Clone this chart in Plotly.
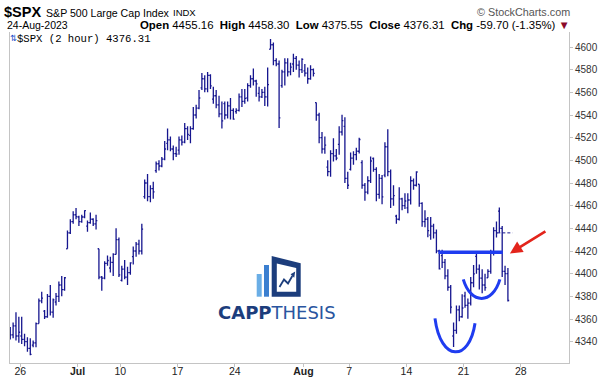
import plotly.graph_objects as go

# ---------------- data ----------------
session_dates = [
    "2023-06-23", "2023-06-26", "2023-06-27", "2023-06-28", "2023-06-29", "2023-06-30",
    "2023-07-03", "2023-07-05", "2023-07-06", "2023-07-07",
    "2023-07-10", "2023-07-11", "2023-07-12", "2023-07-13", "2023-07-14",
    "2023-07-17", "2023-07-18", "2023-07-19", "2023-07-20", "2023-07-21",
    "2023-07-24", "2023-07-25", "2023-07-26", "2023-07-27", "2023-07-28",
    "2023-07-31", "2023-08-01", "2023-08-02", "2023-08-03", "2023-08-04",
    "2023-08-07", "2023-08-08", "2023-08-09", "2023-08-10", "2023-08-11",
    "2023-08-14", "2023-08-15", "2023-08-16", "2023-08-17", "2023-08-18",
    "2023-08-21", "2023-08-22", "2023-08-23", "2023-08-24",
]
session_bars = [4, 4, 4, 4, 4, 4, 3] + [4] * 37
future_sessions = ["2023-08-25", "2023-08-28"]

tick_dates = ["2023-06-26", "2023-07-03", "2023-07-10", "2023-07-17", "2023-07-24",
              "2023-08-01", "2023-08-07", "2023-08-14", "2023-08-21", "2023-08-28"]
tick_labels = ["26", "<b>Jul</b>", "10", "17", "24", "<b>Aug</b>", "7", "14", "21", "28"]
price_ticks = [4340, 4360, 4380, 4400, 4420, 4440, 4460, 4480, 4500, 4520, 4540, 4560, 4580, 4600]

bar_open = [
    4352, 4346, 4354, 4345,  4345, 4342, 4340, 4334,  4337, 4339, 4356, 4376,
    4367, 4362, 4380, 4366,  4375, 4380, 4390, 4386,  4422, 4436, 4446, 4452,
    4450, 4446, 4450,        4442, 4445, 4448, 4444,  4422, 4397, 4396, 4409,
    4405, 4410, 4417, 4430,  4394, 4404, 4397, 4401,  4415, 4420, 4426, 4420,
    4468, 4480, 4468, 4475,  4491, 4497, 4495, 4501,  4515, 4518, 4510, 4506,
    4509, 4518, 4516, 4528,  4522, 4528, 4540, 4546,  4564, 4572, 4563, 4575,
    4554, 4557, 4549, 4541,  4550, 4540, 4548, 4544,  4543, 4544, 4556, 4552,
    4555, 4566, 4572, 4570,  4559, 4556, 4560, 4556,  4598, 4602, 4588, 4585,
    4566, 4578, 4586, 4578,  4585, 4590, 4584, 4580,  4579, 4577, 4572, 4580,
    4551, 4540, 4520, 4510,  4494, 4490, 4506, 4504,  4514, 4525, 4530, 4484,
    4492, 4502, 4505, 4508,  4498, 4478, 4472, 4482,  4501.6, 4492, 4470, 4484,
    4487, 4512, 4490, 4466,  4450.7, 4448, 4466, 4460,  4458, 4465, 4482, 4478,
    4478.9, 4462, 4446, 4448,  4434, 4442, 4436, 4420,  4416, 4410, 4398, 4388,
    4345, 4350, 4368, 4362,  4380.3, 4372, 4374, 4392,  4415.3, 4404, 4396, 4390,
    4396.4, 4402, 4418, 4438,  4455.16, 4440, 4402, 4400,
]
bar_high = [
    4353, 4357, 4366, 4362,  4362, 4347, 4344, 4343,  4341, 4357, 4378, 4384,
    4368, 4382, 4390, 4378,  4383, 4393, 4398, 4397,  4438, 4448, 4455, 4458,
    4451, 4452, 4456,        4447, 4454, 4449, 4452,  4422, 4398, 4411, 4416,
    4415, 4418, 4440, 4432,  4407, 4412, 4406, 4410,  4424, 4428, 4430, 4444,
    4483, 4488, 4478, 4481,  4499, 4500, 4503, 4517,  4528, 4521, 4513, 4512,
    4521, 4522, 4533, 4530,  4530, 4547, 4549, 4562,  4577, 4575, 4578, 4576,
    4565, 4562, 4557, 4552,  4552, 4552, 4555, 4546,  4546, 4559, 4563, 4563,
    4568, 4575, 4581, 4571,  4565, 4563, 4565, 4582,  4607, 4604, 4590, 4588,
    4580, 4590, 4590, 4586,  4594, 4592, 4588, 4590,  4585, 4582, 4584, 4581,
    4551, 4542, 4525, 4521,  4500, 4509, 4519.5, 4510,  4530, 4540.3, 4538, 4490,
    4507, 4508, 4511, 4520,  4500, 4480, 4486, 4503.3,  4502.4, 4494, 4488, 4487,
    4516, 4527.4, 4492, 4478,  4452, 4476.2, 4467, 4471,  4471, 4486, 4484, 4490.3,
    4478.9, 4463, 4456, 4450,  4450, 4444, 4439, 4421,  4421, 4413, 4404, 4390,
    4357, 4372, 4372, 4381.8,  4384, 4378, 4397, 4407.6,  4418.6, 4408, 4404, 4400,
    4404, 4421, 4441, 4446,  4458.30, 4442, 4407, 4405,
]
bar_low = [
    4342, 4343, 4341, 4339,  4338, 4336, 4331, 4328,  4335, 4335, 4356, 4374,
    4360, 4361, 4363, 4361,  4372, 4375, 4380, 4385,  4422, 4435, 4444, 4448,
    4442, 4445, 4449,        4437, 4444, 4442, 4439,  4395, 4385, 4395, 4407,
    4401, 4398, 4417, 4397,  4393, 4395, 4390, 4399,  4408, 4415, 4417, 4417,
    4466, 4464, 4463, 4466,  4489, 4491, 4494, 4500,  4509, 4508, 4500, 4503,
    4505, 4513, 4515, 4518,  4515, 4527, 4537, 4545,  4562, 4560, 4560, 4563,
    4550, 4546, 4538, 4528,  4536, 4537, 4536, 4535.8,  4541, 4543, 4547, 4550,
    4552, 4564, 4566, 4556,  4552, 4555, 4548, 4547.6,  4598, 4584, 4583, 4528.6,
    4564, 4566, 4574, 4575,  4578, 4580, 4573, 4577,  4574, 4567.5, 4571, 4574,
    4535, 4515, 4506, 4505.8,  4486, 4485.5, 4499, 4500,  4505, 4522, 4480, 4474.6,
    4491, 4496, 4500, 4506,  4475, 4464.4, 4470, 4480,  4490, 4464, 4466, 4461.3,
    4485, 4486, 4457.9, 4460,  4444, 4447, 4456, 4457,  4453.4, 4461, 4474, 4477,
    4459, 4441.5, 4441, 4432.2,  4430, 4431, 4418, 4403.6,  4405, 4395, 4385, 4364.8,
    4335.3, 4347, 4358, 4361,  4370, 4360.3, 4372, 4388,  4400, 4386, 4382.8, 4385,
    4396.4, 4400, 4416, 4432,  4436, 4397, 4390, 4375.55,
]
bar_close = [
    4346, 4354, 4345, 4348.3,  4342, 4340, 4334, 4328.8,  4339, 4356, 4376, 4378.4,
    4362, 4380, 4366, 4376.9,  4380, 4390, 4386, 4396.4,  4436, 4446, 4452, 4450.4,
    4446, 4450, 4455.6,        4445, 4448, 4444, 4446.8,  4397, 4396, 4409, 4411.6,
    4410, 4417, 4430, 4399,  4404, 4397, 4401, 4409.5,  4420, 4426, 4420, 4439.3,
    4480, 4468, 4475, 4472.2,  4497, 4495, 4501, 4510,  4518, 4510, 4506, 4505.4,
    4518, 4516, 4528, 4522.8,  4528, 4540, 4546, 4555,  4572, 4563, 4575, 4565.7,
    4557, 4549, 4541, 4534.9,  4540, 4548, 4544, 4536.3,  4544, 4556, 4552, 4554.6,
    4566, 4572, 4570, 4567.5,  4556, 4560, 4556, 4566.8,  4602, 4588, 4585, 4537.4,
    4578, 4586, 4578, 4582.2,  4590, 4584, 4580, 4589,  4577, 4572, 4580, 4576.7,
    4540, 4520, 4510, 4513.4,  4490, 4506, 4504, 4501.9,  4525, 4535, 4484, 4478,
    4502, 4505, 4508, 4518.4,  4478, 4472, 4482, 4499.4,  4492, 4470, 4484, 4467.7,
    4512, 4490, 4466, 4468.8,  4448, 4466, 4460, 4464.1,  4465, 4482, 4478, 4489.7,
    4462, 4446, 4448, 4437.9,  4442, 4436, 4420, 4404.3,  4410, 4398, 4388, 4370.4,
    4350, 4368, 4362, 4369.7,  4372, 4374, 4392, 4399.8,  4404, 4396, 4390, 4387.6,
    4402, 4418, 4438, 4436.01,  4440, 4402, 4400, 4376.31,
]

# hand-drawn markup on the chart (data coordinates: bar index, price)
neckline_x = [149.7, 172.2]
neckline_y = 4418.8
cup1 = [(148.5, 4360.6), (150.5, 4321.9), (160.5, 4321.9), (162.5, 4356.2)]
cup2 = [(158.4, 4395.0), (161.0, 4372.6), (168.6, 4372.6), (171.2, 4395.0)]
arrow_tip = (174.7, 4417.9)

# ---------------- build positions ----------------
bar_x = []
session_start = {}
k = 0
for d, n in zip(session_dates, session_bars):
    session_start[d] = k
    for _ in range(n):
        bar_x.append(k)
        k += 1
for d in future_sessions:
    session_start[d] = k
    k += 4
tick_pos = [session_start[d] - 0.5 for d in tick_dates]

last_start = session_start[session_dates[-1]]
n_last = session_bars[-1]
day_open = bar_open[last_start]
day_high = max(bar_high[last_start:last_start + n_last])
day_low = min(bar_low[last_start:last_start + n_last])
day_close = bar_close[-1]
prev_close = bar_close[last_start - 1]
chg = day_close - prev_close
chg_pct = chg / prev_close * 100

W, H = 599, 379
ML, MR, MT, MB = 10, 30, 32, 16
PW, PH = W - ML - MR, H - MT - MB


def PX(x):
    return (x - ML) / PW


def PY(y):
    return (H - MB - y) / PH


NAVY = "#16168f"
FONT = "Liberation Sans"

fig = go.Figure()
fig.add_trace(go.Ohlc(
    x=bar_x, open=bar_open, high=bar_high, low=bar_low, close=bar_close,
    increasing=dict(line=dict(color=NAVY, width=1.3)),
    decreasing=dict(line=dict(color=NAVY, width=1.3)),
    tickwidth=0.45, hoverinfo="skip", showlegend=False,
))

shapes = []


def cubic(pts):
    (x0, y0), (x1, y1), (x2, y2), (x3, y3) = pts
    return f"M {x0},{y0} C {x1},{y1} {x2},{y2} {x3},{y3}"


BLUE = "#1f3cf0"
shapes.append(dict(type="path", xref="x", yref="y", path=cubic(cup1),
                   line=dict(color=BLUE, width=3)))
shapes.append(dict(type="path", xref="x", yref="y", path=cubic(cup2),
                   line=dict(color=BLUE, width=3)))
shapes.append(dict(type="line", xref="x", yref="y", x0=neckline_x[0], x1=neckline_x[1],
                   y0=neckline_y, y1=neckline_y, line=dict(color=BLUE, width=3.5)))
# previous close marker
shapes.append(dict(type="line", xref="x", yref="y", x0=bar_x[last_start - 1] + 0.3,
                   x1=bar_x[-1] + 1.6, y0=prev_close, y1=prev_close,
                   line=dict(color=NAVY, width=1, dash="3px,2px")))


# logo (paper coordinates converted from pixels)
def ppath(points, close=True):
    s = "M " + " L ".join(f"{PX(x):.5f},{PY(y):.5f}" for x, y in points)
    return s + (" Z" if close else "")


shapes.append(dict(type="rect", xref="paper", yref="paper", x0=PX(256.7), x1=PX(261.7),
                   y0=PY(296.7), y1=PY(274), fillcolor="#6aaee6", line=dict(width=0), layer="below"))
shapes.append(dict(type="rect", xref="paper", yref="paper", x0=PX(264), x1=PX(269),
                   y0=PY(296.7), y1=PY(265), fillcolor="#3b7fd0", line=dict(width=0), layer="below"))
shapes.append(dict(type="path", xref="paper", yref="paper",
                   path=ppath([(271.7, 296.7), (271.7, 256), (300.7, 263.3), (300.7, 296.7)]),
                   fillcolor="#1c3d7c", line=dict(width=0), layer="below"))
shapes.append(dict(type="path", xref="paper", yref="paper",
                   path=ppath([(276.8, 291.8), (276.8, 263.5), (296.2, 268), (296.2, 291.8)]),
                   fillcolor="white", line=dict(width=0), layer="below"))
shapes.append(dict(type="path", xref="paper", yref="paper",
                   path=ppath([(279.5, 287), (284, 279.5), (288, 283.5), (292.3, 276)], close=False),
                   line=dict(color="#1c3d7c", width=1.8), layer="below"))
shapes.append(dict(type="path", xref="paper", yref="paper",
                   path=ppath([(295.2, 271.5), (290.6, 274.2), (294.2, 277.8)]),
                   fillcolor="#1c3d7c", line=dict(width=0), layer="below"))

SP = "&nbsp; "
stats_text = (f"<b>Open</b> {day_open:.2f}{SP}<b>High</b> {day_high:.2f}{SP}<b>Low</b> {day_low:.2f}{SP}"
              f"<b>Close</b> {day_close:.2f}{SP}<b>Chg</b> {chg:.2f} ({chg_pct:.2f}%)"
              "<span style='color:#8b0a2a'> ▼</span>")

annotations = [
    dict(text="<b>$SPX</b>", x=PX(4), y=PY(11.5), font=dict(family=FONT, size=14.5, color="#000")),
    dict(text="S&amp;P 500 Large Cap Index", x=PX(45.5), y=PY(12.5), font=dict(family=FONT, size=10.6, color="#000")),
    dict(text="INDX", x=PX(173.5), y=PY(13), font=dict(family=FONT, size=9.5, color="#000")),
    dict(text="© StockCharts.com", x=PX(569.5), y=PY(12), xanchor="right",
         font=dict(family=FONT, size=10.8, color="#555")),
    dict(text="24-Aug-2023", x=PX(7), y=PY(25), font=dict(family=FONT, size=10.5, color="#000")),
    dict(text=stats_text, x=PX(569.5), y=PY(25), xanchor="right",
         font=dict(family=FONT, size=11.4, color="#000")),
    dict(text="⇅", x=PX(10), y=PY(38), font=dict(family="DejaVu Sans", size=8.5, color="#2050c8")),
    dict(text=f"$SPX (2 hour) {day_close:.2f}", x=PX(16.5), y=PY(38.5),
         font=dict(family="Liberation Mono", size=10.6, color="#000")),
    dict(text="<b>CAPP</b><span style='color:#2a55a0'>THESIS</span>", x=PX(277), y=PY(312.5),
         xanchor="center", font=dict(family="DejaVu Sans", size=18, color="#1c3d7c")),
]
for a in annotations:
    a.setdefault("xanchor", "left")
    a.update(xref="paper", yref="paper", yanchor="middle", showarrow=False, borderpad=0, borderwidth=0)

annotations.append(dict(
    x=arrow_tip[0], y=arrow_tip[1], xref="x", yref="y", text="", showarrow=True,
    ax=37, ay=-23, arrowhead=2, arrowsize=0.95, arrowwidth=2.6, arrowcolor="#e3241b", standoff=0,
))

fig.update_layout(
    width=W, height=H,
    margin=dict(l=ML, r=MR, t=MT, b=MB, pad=0, autoexpand=False),
    paper_bgcolor="white", plot_bgcolor="white",
    showlegend=False,
    shapes=shapes, annotations=annotations,
    xaxis=dict(range=[-0.09, 195.36], showgrid=False, zeroline=False, automargin=False,
               showline=True, linecolor="#c4c4c4", linewidth=1,
               ticks="outside", ticklen=3, tickcolor="#c4c4c4",
               tickvals=tick_pos, ticktext=tick_labels, ticklabelstandoff=-5,
               tickfont=dict(family=FONT, size=10.5, color="#222"),
               rangeslider=dict(visible=False)),
    yaxis=dict(range=[4321.18, 4613.24], side="right", showgrid=False, zeroline=False, automargin=False,
               showline=True, mirror=True, linecolor="#c4c4c4", linewidth=1,
               ticks="outside", ticklen=3, tickcolor="#c4c4c4",
               tickvals=price_ticks, tickfont=dict(family=FONT, size=10, color="#333")),
)

# the page's default 8px body margin would shift the fixed-size figure; remove it
fig.write_html("out.html", config={"displayModeBar": False},
               post_script="document.body.style.margin='0px';")
